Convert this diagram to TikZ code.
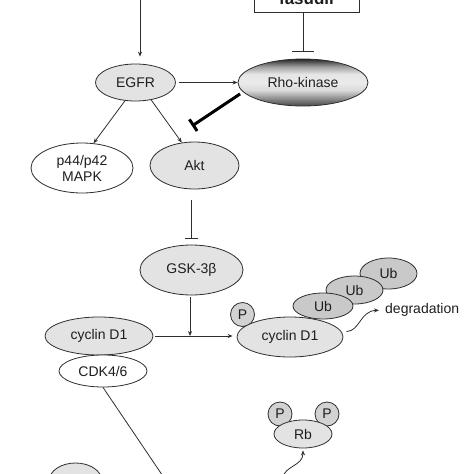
\documentclass[tikz,border=0pt]{standalone}
\usepackage{fontspec}
\setmainfont{Liberation Sans}
\usetikzlibrary{shapes.geometric,arrows.meta}
\definecolor{cfill}{HTML}{E3E3E3}
\definecolor{ubfill}{HTML}{C9C9C9}
\definecolor{pfill}{HTML}{D2D2D2}
\definecolor{linec}{HTML}{2E2E2E}
\definecolor{txtc}{HTML}{1E1E1E}
\pgfdeclareverticalshading{rhoshade}{100bp}{color(0bp)=(black!72); color(25bp)=(black!72); color(33bp)=(black!45); color(42bp)=(black!14); color(50bp)=(black!8); color(59bp)=(black!10); color(67bp)=(black!38); color(75bp)=(black!85); color(100bp)=(black!85)}
\begin{document}
\begin{tikzpicture}[x=1pt,y=-1pt,
  every node/.style={font=\fontsize{14}{16}\selectfont, text=txtc},
  bub/.style={ellipse, draw=linec, line width=0.8pt, inner sep=0pt, fill=cfill},
  wbub/.style={bub, fill=white},
  ubst/.style={bub, fill=ubfill},
  pst/.style={bub, fill=pfill, minimum width=24pt, minimum height=24pt},
  rhost/.style={ellipse, draw=linec, line width=0.8pt, inner sep=0pt, shading=rhoshade},
  boxst/.style={rectangle, draw=linec, line width=0.8pt, inner sep=0pt,
    minimum width=105pt, minimum height=28pt},
  conn/.style={draw=linec, line width=0.8pt},
  arr/.style={conn, -{Stealth[length=5pt,width=4pt]}},
  inh/.style={conn, -{Bar[width=22pt]}},
  inhsm/.style={conn, -{Bar[width=13pt]}},
  inhthick/.style={draw=black, line width=3pt, -{Bar[width=14pt]}},
]
\useasboundingbox (0,0) rectangle (474,474);

% nodes
\node[boxst] (fas) at (306.5,-1.2) {\bfseries\fontsize{17}{20}\selectfont fasudil};
\node[bub, minimum width=80pt, minimum height=37pt] (egfr) at (135.5,82.5) {EGFR};
\node[rhost, minimum width=130pt, minimum height=47pt] (rho) at (303,82.5) {Rho-kinase};
\node[wbub, minimum width=102pt, minimum height=50pt, align=center] (mapk) at (82,168) {p44/p42\\MAPK};
\node[bub, minimum width=89pt, minimum height=47pt] (akt) at (194.5,165.5) {Akt};
\node[bub, minimum width=103pt, minimum height=50pt] (gsk) at (191.5,270) {GSK-3β};
\node[bub, minimum width=108pt, minimum height=38pt] (cycl) at (99,336) {cyclin D1};
\node[wbub, minimum width=88pt, minimum height=32pt] (cdk) at (103,371) {CDK4/6};
\node[ubst, minimum width=57pt, minimum height=31pt] (ub3) at (388.5,273.5) {Ub};
\node[ubst, minimum width=57pt, minimum height=28pt] (ub2) at (354.5,290) {Ub};
\node[ubst, minimum width=60pt, minimum height=26pt] (ub1) at (323,306) {Ub};
\node[pst] (p1) at (242.5,314.5) {P};
\node[bub, minimum width=106pt, minimum height=40pt] (cycr) at (290,337) {cyclin D1};
\node[anchor=west, inner sep=0pt] (degr) at (385,310) {degradation};
\node[pst] (p2) at (280,414) {P};
\node[pst] (p3) at (327,414) {P};
\node[bub, minimum width=58pt, minimum height=28pt] (rb) at (303,434) {Rb};
\node[bub, minimum width=53pt, minimum height=36pt] (bl) at (75.5,481) {};

% free ends
\coordinate (topin) at (140,-10);
\coordinate (rhoinh) at (192,126);
\coordinate (mid) at (190,336);
\coordinate (cdkout) at (175,494);
\coordinate (rbin) at (283,478);

% connectors
\draw[arr, shorten >=7pt] (topin) -- (topin |- egfr.north);
\draw[inh, shorten >=7pt] (fas.south -| rho.north) -- (rho.north);
\draw[arr, shorten <=3pt] (egfr.east) -- (rho.west);
\draw[inhthick, shorten <=3.5pt] (rho.189) -- (rhoinh);
\draw[arr] (egfr.240) -- (mapk.65);
\draw[arr] (egfr.312) -- (akt.119);
\draw[inhsm, shorten <=11pt, shorten >=6pt] (akt.south -| gsk.north) -- (gsk.north);
\draw[arr, shorten <=2pt] (gsk.south -| mid) -- (mid);
\draw[arr, shorten <=2pt, shorten >=4pt] (cycl.east) -- (cycl.east -| cycr.west);
\draw[arr, shorten >=6pt] ([xshift=5pt]cycr.6) .. controls (360,331) and (360,311) .. (degr.west);
\draw[conn] (cdk.south) -- (cdkout);
\draw[arr, shorten >=2pt] (rbin) .. controls (284,466) and (303,466) .. (rb.south);
\end{tikzpicture}
\end{document}
